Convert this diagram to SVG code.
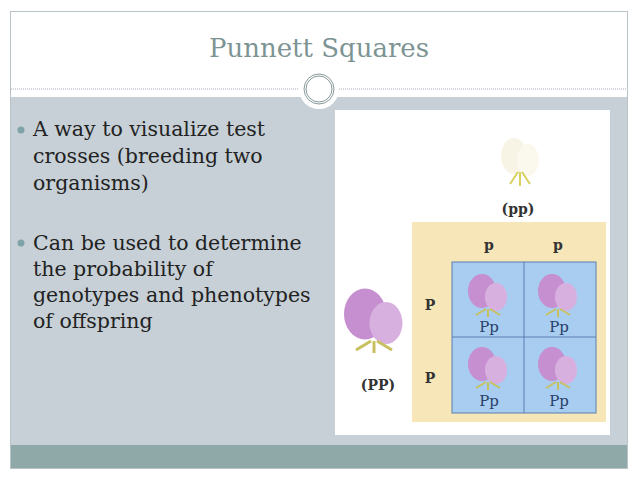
<svg xmlns="http://www.w3.org/2000/svg" width="638" height="478" viewBox="0 0 638 478">
<style>
.b{font-family:"DejaVu Serif","Liberation Serif",serif;font-size:20.5px;fill:#222}
.l{font-family:"DejaVu Serif",serif;font-weight:bold;font-size:14px;fill:#333}
.pp{font-family:"DejaVu Serif",serif;font-size:15px;fill:#2a3f6a}
</style>
<defs>
<g id="flower">
<ellipse cx="-6" cy="-4" rx="14" ry="17" fill="#c58fd0"/>
<ellipse cx="8" cy="2" rx="11" ry="14" fill="#d8b0e0"/>
<path d="M-2 14 L-12 20 M0 14 L0 22 M2 14 L12 20" stroke="#c8c060" stroke-width="2"/>
</g>
</defs>
<rect x="0" y="0" width="638" height="478" fill="#fff"/>
<rect x="10.5" y="11.5" width="617" height="457" fill="#fff" stroke="#b8c4c8"/>
<rect x="11" y="97" width="616" height="348" fill="#c6d0d6"/>
<rect x="11" y="445" width="616" height="23" fill="#8fa9a9"/>
<line x1="11" y1="89" x2="627" y2="89" stroke="#aab" stroke-dasharray="1,1"/>
<g id="title">
<text x="319" y="57" text-anchor="middle" font-family="DejaVu Serif,serif" font-size="26" fill="#7d9494">Punnett Squares</text>
</g>
<g id="ornament">
<circle cx="319" cy="89" r="20" fill="#fff"/>
<circle cx="319" cy="89" r="15" fill="none" stroke="#8a9a9a" stroke-width="1"/>
<circle cx="319" cy="89" r="13" fill="none" stroke="#8a9a9a" stroke-width="1"/>
</g>
<g id="bullets">
<circle cx="21" cy="130" r="3.5" fill="#7fa3a8"/>
<text class="b" x="33" y="136">A way to visualize test</text>
<text class="b" x="33" y="163">crosses (breeding two</text>
<text class="b" x="33" y="190">organisms)</text>
<circle cx="21" cy="243" r="3.5" fill="#7fa3a8"/>
<text class="b" x="33" y="250">Can be used to determine</text>
<text class="b" x="33" y="276">the probability of</text>
<text class="b" x="33" y="302">genotypes and phenotypes</text>
<text class="b" x="33" y="328">of offspring</text>
</g>
<g id="picture">
<rect x="335" y="110" width="275" height="325" fill="#fff"/>
<rect x="412" y="222" width="194" height="200" fill="#f7e6b8"/>
<rect x="452" y="262" width="144" height="151" fill="#a8cdf0" stroke="#5a7fb0"/>
<line x1="524" y1="262" x2="524" y2="413" stroke="#5a7fb0"/>
<line x1="452" y1="337" x2="596" y2="337" stroke="#5a7fb0"/>
<g transform="translate(520,160)"><ellipse cx="-6" cy="-4" rx="13" ry="18" fill="#f7f4e6"/><ellipse cx="8" cy="0" rx="11" ry="16" fill="#fbf9ee"/><path d="M-2 12 L-10 24 M0 12 L0 26 M2 12 L10 24" stroke="#d8d060" stroke-width="2"/></g>
<use href="#flower" transform="translate(374,320) scale(1.5)"/>
<use href="#flower" transform="translate(488,295)"/>
<use href="#flower" transform="translate(558,295)"/>
<use href="#flower" transform="translate(488,368)"/>
<use href="#flower" transform="translate(558,368)"/>
<text class="l" x="518" y="214" text-anchor="middle">(pp)</text>
<text class="l" x="378" y="390" text-anchor="middle">(PP)</text>
<text class="l" x="489" y="250" text-anchor="middle">p</text>
<text class="l" x="558" y="250" text-anchor="middle">p</text>
<text class="l" x="430" y="310" text-anchor="middle">P</text>
<text class="l" x="430" y="383" text-anchor="middle">P</text>
<text class="pp" x="489" y="332" text-anchor="middle">Pp</text>
<text class="pp" x="559" y="332" text-anchor="middle">Pp</text>
<text class="pp" x="489" y="406" text-anchor="middle">Pp</text>
<text class="pp" x="559" y="406" text-anchor="middle">Pp</text>
</g>
</svg>
